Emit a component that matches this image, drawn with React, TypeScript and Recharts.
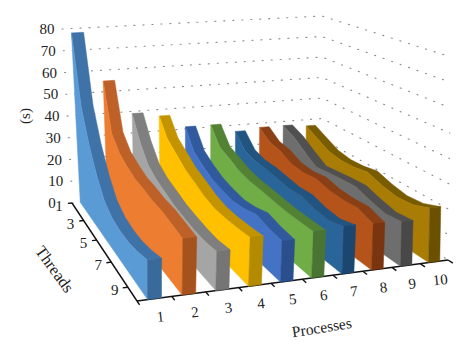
import React from 'react';
import { ScatterChart, Scatter, XAxis, YAxis } from 'recharts';

const WIDTH = 474;
const HEIGHT = 357;

const processes = [1, 2, 3, 4, 5, 6, 7, 8, 9, 10];
const threads = [1, 2, 3, 4, 5, 6, 7, 8, 9, 10];
const threadTicks = [1, 3, 5, 7, 9];
const secondsTicks = [0, 10, 20, 30, 40, 50, 60, 70, 80];

const process1 = [78, 47, 33, 23, 16, 13, 12, 12, 13, 14.7];
const process2 = [55, 34, 28.5, 26, 24.3, 23.8, 23, 22.9, 22, 21];
const process3 = [39, 29, 22, 19, 17.4, 15.7, 14.8, 14.1, 13.9, 14.7];
const process4 = [37, 29.4, 26, 22.6, 20.6, 18.4, 17.2, 17.2, 17.7, 18.4];
const process5 = [31, 22.5, 19.3, 16.9, 15.7, 15, 15.8, 17.5, 16.2, 15.6];
const process6 = [31, 23.5, 21.5, 19.4, 18.4, 18.2, 17.7, 17.4, 17.5, 17.7];
const process7 = [27, 21, 19.5, 19.5, 18.7, 18, 18.5, 17, 16.5, 18.3];
const process8 = [28, 24, 23, 20.5, 20, 21, 19.7, 19.5, 20, 17.9];
const process9 = [28, 25.5, 21.6, 18, 18.8, 19.5, 20, 18, 16.5, 17.3];
const process10 = [27, 24, 21, 20, 20.3, 21.5, 19.5, 18.2, 18.8, 21.4];
const times = [process1, process2, process3, process4, process5, process6, process7, process8, process9, process10];

// side, top, front
const sideColors = ['#5B9BD5', '#ED7D31', '#A5A5A5', '#FFC000', '#4472C4', '#70AD47', '#2A6599', '#B5541A', '#6E6E6E', '#A87C05'];
const topColors = ['#3F73A8', '#BE6128', '#7F7F7F', '#C49400', '#315A9E', '#548235', '#215480', '#8B3F14', '#505050', '#7A5C00'];
const frontColors = ['#3A6A99', '#A5521C', '#757575', '#B38A00', '#2B4F8C', '#4A7431', '#1A466F', '#7A3510', '#484848', '#6B5000'];

type Pt = { x: number; y: number };

// maps the unit square onto a screen quad, back-left, back-right, front-right, front-left
function homography(q: number[][]) {
  const [[x0, y0], [x1, y1], [x2, y2], [x3, y3]] = q;
  const dx1 = x1 - x2, dx2 = x3 - x2, dx3 = x0 - x1 + x2 - x3;
  const dy1 = y1 - y2, dy2 = y3 - y2, dy3 = y0 - y1 + y2 - y3;
  const det = dx1 * dy2 - dx2 * dy1;
  const g = (dx3 * dy2 - dx2 * dy3) / det;
  const h = (dx1 * dy3 - dx3 * dy1) / det;
  return (s: number, t: number): Pt => {
    const w = g * s + h * t + 1;
    return {
      x: ((x1 - x0 + g * x1) * s + (x3 - x0 + h * x3) * t + x0) / w,
      y: ((y1 - y0 + g * y1) * s + (y3 - y0 + h * y3) * t + y0) / w,
    };
  };
}

const floor = homography([[72, 203], [322, 180], [448, 260], [137, 301]]);
const ceiling = homography([[62, 29], [322, 16], [451, 57], [135, 85]]);

// u: 0..10 along processes, v: 0..1 back to front, value in seconds
function project(u: number, v: number, value: number): Pt {
  const a = floor(u / 10, v);
  const b = ceiling(u / 10, v);
  const k = value / 80;
  return { x: a.x + (b.x - a.x) * k, y: a.y + (b.y - a.y) * k };
}

const threadPos = (t: number) => (t - 1) / 9;

function polygon(key: string, pts: Pt[], color: string) {
  return (
    <Scatter
      key={key}
      data={[...pts, pts[0]]}
      isAnimationActive={false}
      shape={() => <g />}
      line={{ stroke: color, fill: color, strokeWidth: 0.5 }}
    />
  );
}

function ribbon(i: number) {
  const vals = times[i];
  const u0 = i + 0.3;
  const u1 = i + 0.7;
  const leftTop = threads.map((t, j) => project(u0, threadPos(t), vals[j]));
  const rightTop = threads.map((t, j) => project(u1, threadPos(t), vals[j]));
  const lastVal = vals[vals.length - 1];
  return [
    polygon(`top${i}`, [...leftTop, ...[...rightTop].reverse()], topColors[i]),
    polygon(`side${i}`, [...leftTop, project(u0, 1, 0), project(u0, 0, 0)], sideColors[i]),
    polygon(`front${i}`, [project(u0, 1, lastVal), project(u1, 1, lastVal), project(u1, 1, 0), project(u0, 1, 0)], frontColors[i]),
  ];
}

function gridLine(value: number) {
  return (
    <Scatter
      key={`grid${value}`}
      data={[project(0, 0, value), project(10, 0, value), project(10, 1, value)]}
      isAnimationActive={false}
      shape={() => <g />}
      line={{ stroke: '#8a8a8a', strokeWidth: 1.1, strokeDasharray: '1.1 7.9', strokeLinecap: 'round', fill: 'none' }}
    />
  );
}

function segment(key: string, a: Pt, b: Pt) {
  return (
    <Scatter
      key={key}
      data={[a, b]}
      isAnimationActive={false}
      shape={() => <g />}
      line={{ stroke: '#111', strokeWidth: 1.4, fill: 'none' }}
    />
  );
}

type LabelPt = Pt & { text: string; angle?: number; size?: number };

function TextMark(props: any) {
  const { cx, cy, payload } = props;
  return (
    <text
      x={cx}
      y={cy}
      textAnchor="middle"
      dominantBaseline="central"
      fontFamily="Liberation Serif"
      fontSize={payload.size ?? 15}
      fill="#222"
      transform={payload.angle ? `rotate(${payload.angle} ${cx} ${cy})` : undefined}
    >
      {payload.text}
    </text>
  );
}

function offset(p: Pt, dx: number, dy: number): Pt {
  return { x: p.x + dx, y: p.y + dy };
}

const labels: LabelPt[] = [
  ...secondsTicks.map((s) => ({ ...offset(project(0, 0, s), s === 0 ? -20 : -15, 0), text: String(s) })),
  ...threadTicks.map((t) => ({ ...offset(project(0, threadPos(t), 0), -13, 3), text: String(t) })),
  ...processes.map((p) => ({ ...offset(project(p - 0.5, 1, 0), 6, 18), text: String(p), angle: -6 })),
  { ...offset(project(0, 0, 40), -42, 0), text: '(s)', angle: -90 },
  { ...offset(project(0, 0.6, 0), -52, 14), text: 'Threads', angle: 54, size: 16.5 },
  { ...offset(project(5.5, 1, 0), 4, 50), text: 'Processes', angle: -9, size: 15.5 },
];

export default function App() {
  return (
    <div style={{ position: 'absolute', left: 0, top: 0, width: WIDTH, height: HEIGHT, background: '#fff' }}>
      <ScatterChart width={WIDTH} height={HEIGHT} margin={{ top: 0, right: 0, bottom: 0, left: 0 }}>
        <XAxis type="number" dataKey="x" domain={[0, WIDTH]} hide allowDataOverflow />
        <YAxis type="number" dataKey="y" domain={[0, HEIGHT]} reversed hide allowDataOverflow />
        {secondsTicks.map(gridLine)}
        {segment('threadAxis', project(0, 0, 0), project(0, 1, 0))}
        {segment('processAxis', project(0, 1, 0), project(10, 1, 0))}
        {threads.filter((t) => t % 2 === 1).map((t) =>
          segment(`tt${t}`, project(0, threadPos(t), 0), project(-0.15, threadPos(t), 0))
        )}
        {[0, ...processes].map((p) => segment(`pt${p}`, project(p, 1, 0), project(p, 1.03, 0)))}
        {[...processes].reverse().flatMap((p) => ribbon(p - 1))}
        <Scatter data={labels} isAnimationActive={false} shape={TextMark} />
      </ScatterChart>
    </div>
  );
}
